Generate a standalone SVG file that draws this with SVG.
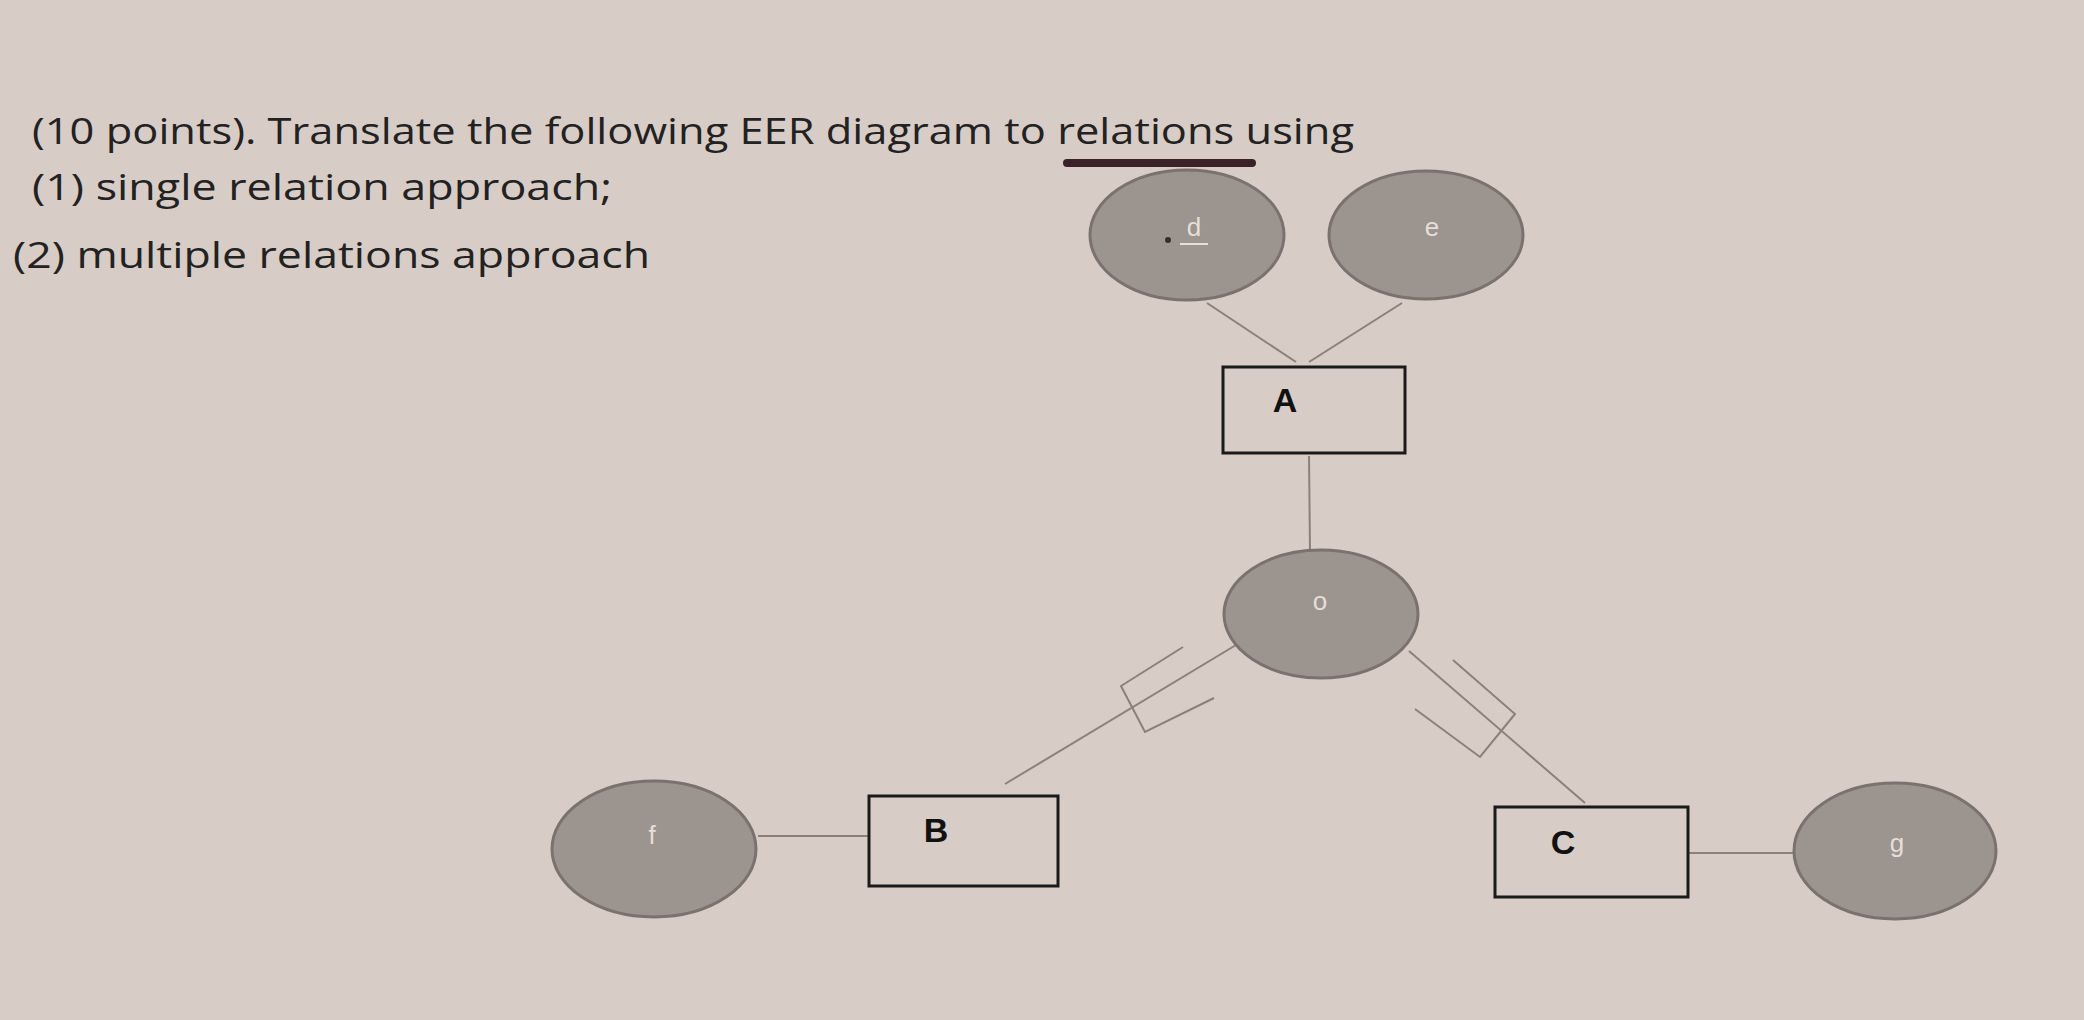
<svg xmlns="http://www.w3.org/2000/svg" width="2084" height="1020" viewBox="0 0 2084 1020">
<style>
.t{font-family:"Open Sans","Liberation Sans",sans-serif;font-size:37px;fill:#222}
.att ellipse{fill:#9c948e;stroke:#7b726d;stroke-width:3}
.att text{font-family:"Liberation Sans",sans-serif;font-size:26px;fill:#e6ded9;text-anchor:middle}
.ent rect{fill:none;stroke:#1a1a1a;stroke-width:3}
.ent text{font-family:"Liberation Sans",sans-serif;font-size:34px;font-weight:bold;fill:#111;text-anchor:middle}
.c line,.c polyline{stroke:#8a817b;stroke-width:2;fill:none}
</style>
<rect width="2084" height="1020" fill="#d8ccc6"/>
<text class="t" x="32" y="144" textLength="1322" lengthAdjust="spacingAndGlyphs">(10 points). Translate the following EER diagram to relations using</text>
<text class="t" x="32" y="200" textLength="580" lengthAdjust="spacingAndGlyphs">(1) single relation approach;</text>
<text class="t" x="13" y="268" textLength="637" lengthAdjust="spacingAndGlyphs">(2) multiple relations approach</text>
<line x1="1067" y1="163" x2="1252" y2="163" stroke="#3a2228" stroke-width="8" stroke-linecap="round"/>
<g class="c" id="connectors">
<line x1="1207" y1="303" x2="1296" y2="362"/>
<line x1="1402" y1="303" x2="1309" y2="362"/>
<line x1="1309" y1="456" x2="1310" y2="550"/>
<line x1="1236" y1="645" x2="1005" y2="784"/>
<line x1="1409" y1="651" x2="1585" y2="803"/>
<line x1="758" y1="836" x2="869" y2="836"/>
<line x1="1688" y1="853" x2="1794" y2="853"/>
<polyline points="1183,647 1121,686 1145,732 1214,698"/>
<polyline points="1453,660 1515,714 1480,757 1415,709"/>
</g>
<g class="att" id="d"><ellipse cx="1187" cy="235" rx="97" ry="65"/><text x="1194" y="236">d</text><line x1="1180" y1="244" x2="1208" y2="244" stroke="#e6ded9" stroke-width="2"/><circle cx="1168" cy="240" r="3" fill="#3a2a28"/></g>
<g class="att" id="e"><ellipse cx="1426" cy="235" rx="97" ry="64"/><text x="1432" y="236">e</text></g>
<g class="ent" id="A"><rect x="1223" y="367" width="182" height="86"/><text x="1285" y="412">A</text></g>
<g class="att" id="o"><ellipse cx="1321" cy="614" rx="97" ry="64"/><text x="1320" y="610">o</text></g>
<g class="ent" id="B"><rect x="869" y="796" width="189" height="90"/><text x="936" y="842">B</text></g>
<g class="att" id="f"><ellipse cx="654" cy="849" rx="102" ry="68"/><text x="652" y="844">f</text></g>
<g class="ent" id="C"><rect x="1495" y="807" width="193" height="90"/><text x="1563" y="854">C</text></g>
<g class="att" id="g"><ellipse cx="1895" cy="851" rx="101" ry="68"/><text x="1897" y="852">g</text></g>
</svg>
